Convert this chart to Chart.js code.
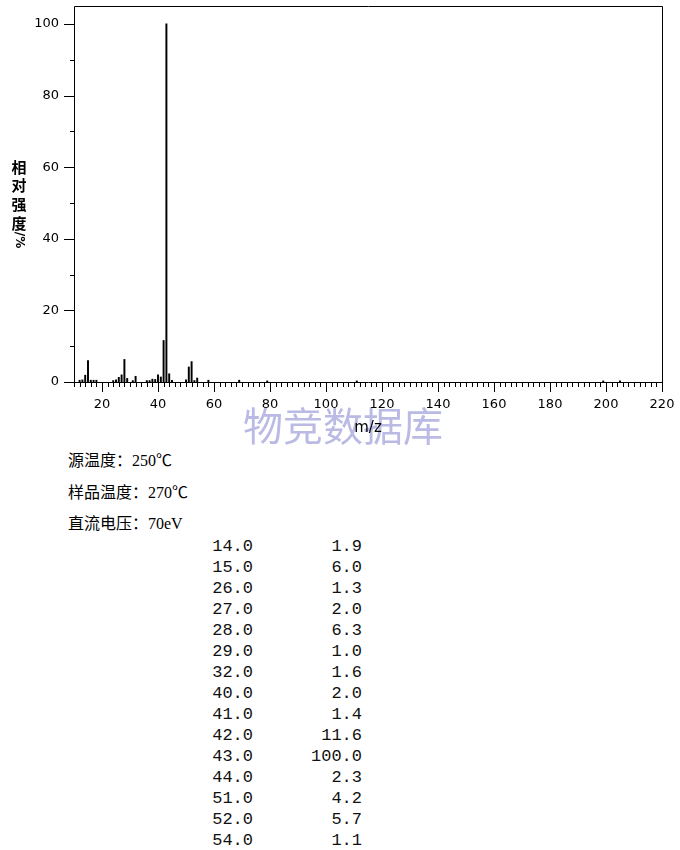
<!DOCTYPE html>
<html>
<head>
<meta charset="utf-8">
<script src="https://cdn.jsdelivr.net/npm/chart.js@4.4.1/dist/chart.umd.min.js"></script>
<style>
  body { margin: 0; background: #fff; width: 680px; height: 850px; position: relative; overflow: hidden; }
  #spectrum { position: absolute; left: 0; top: 0; }
  .info { position: absolute; left: 68px; font-family: "Liberation Serif", "Noto Sans CJK SC", serif; font-size: 16px; color: #000; }
  .row { position: absolute; font-family: "Liberation Mono", "DejaVu Sans Mono", monospace; font-size: 17px; color: #111; text-align: right; }
</style>
</head>
<body>
<canvas id="spectrum" width="680" height="450"></canvas>
<div id="notes"></div>
<script>
// peaks (m/z, relative intensity %)
const peakMz = [12, 13, 14, 15, 16, 17, 18, 24, 25, 26, 27, 28, 29, 31, 32, 36, 37, 38, 39, 40,
  41, 42, 43, 44, 45, 50, 51, 52, 53, 54, 58, 69, 79, 111, 199, 205];
const peakIntensity = [0.5, 0.6, 1.9, 6.0, 0.5, 0.5, 0.5, 0.4, 0.6, 1.3, 2.0, 6.3, 1.0, 0.4, 1.6, 0.4, 0.4, 0.8, 0.7, 2.0,
  1.4, 11.6, 100.0, 2.3, 0.5, 0.6, 4.2, 5.7, 0.4, 1.1, 0.5, 0.5, 0.3, 0.3, 0.3, 0.3];

const xLabels = [20, 40, 60, 80, 100, 120, 140, 160, 180, 200, 220];
const yLabels = [0, 20, 40, 60, 80, 100];
const xMinorStep = 2;
const yMinorStep = 10;

const conditions = ["源温度：250℃", "样品温度：270℃", "直流电压：70eV"];
const yTitleChars = ["相", "对", "强", "度"];

// little helper for the stepped tick lists
const stepList = (from, to, step) => {
  const out = [];
  for (let v = from; v <= to + 1e-9; v += step) out.push(v);
  return out;
};

const axisPlugin = {
  id: "axisDecor",
  beforeDraw(chart) {
    const ctx = chart.ctx;
    ctx.save();
    ctx.fillStyle = "rgb(186, 186, 228)";
    ctx.font = "40px 'Noto Sans CJK SC'";
    ctx.textAlign = "center";
    ctx.textBaseline = "middle";
    ctx.fillText("物竞数据库", 343, 426);
    ctx.restore();
  },
  afterDraw(chart) {
    const ctx = chart.ctx;
    const area = chart.chartArea;
    const xs = chart.scales.x;
    const ys = chart.scales.y;
    ctx.save();
    ctx.strokeStyle = "#000";
    ctx.lineWidth = 1;
    ctx.beginPath();
    // frame
    ctx.rect(Math.round(area.left) + 0.5, Math.round(area.top) + 0.5,
      Math.round(area.right - area.left), Math.round(area.bottom - area.top));
    // x ticks below the axis
    stepList(10, 220, xMinorStep).forEach(v => {
      const px = Math.round(xs.getPixelForValue(v)) + 0.5;
      const len = xLabels.includes(v) ? 10 : 5;
      ctx.moveTo(px, Math.round(area.bottom));
      ctx.lineTo(px, Math.round(area.bottom) + len);
    });
    // y ticks left of the axis
    stepList(0, 100, yMinorStep).forEach(v => {
      const py = Math.round(ys.getPixelForValue(v)) + 0.5;
      const len = yLabels.includes(v) ? 10 : 4;
      ctx.moveTo(Math.round(area.left), py);
      ctx.lineTo(Math.round(area.left) - len, py);
    });
    ctx.stroke();

    // vertical axis title, CJK upright, "/%" turned
    ctx.fillStyle = "#000";
    ctx.font = "bold 15px 'Noto Sans CJK SC'";
    ctx.textAlign = "center";
    ctx.textBaseline = "middle";
    yTitleChars.forEach((c, i) => ctx.fillText(c, 19, 167 + i * 18.7));
    ctx.translate(19, 240);
    ctx.rotate(Math.PI / 2);
    ctx.font = "bold 12px 'DejaVu Sans'";
    ctx.fillText("/%", 0, 0);
    ctx.restore();
  }
};

new Chart(document.getElementById("spectrum").getContext("2d"), {
  type: "bar",
  data: {
    datasets: [{
      data: peakMz.map((mz, i) => ({ x: mz, y: peakIntensity[i] })),
      backgroundColor: "#000",
      borderWidth: 0,
      barThickness: 1.3
    }]
  },
  options: {
    responsive: false,
    animation: false,
    events: [],
    layout: { padding: { top: 6, right: 18, left: 0, bottom: 0 } },
    plugins: { legend: { display: false }, tooltip: { enabled: false } },
    scales: {
      x: {
        type: "linear",
        min: 10,
        max: 220,
        offset: false,
        grid: { display: false, drawTicks: false },
        border: { display: false },
        afterBuildTicks: (scale) => { scale.ticks = xLabels.map(v => ({ value: v })); },
        afterFit: (scale) => {
          scale.height = 68;
          scale.paddingLeft = 0;
          scale.paddingRight = 0;
        },
        ticks: {
          autoSkip: false,
          maxRotation: 0,
          padding: 15,
          color: "#000",
          font: { family: "DejaVu Sans", size: 13 }
        },
        title: {
          display: true,
          text: "m/z",
          color: "#000",
          font: { family: "DejaVu Sans", size: 15 },
          padding: { top: 0, bottom: 13 }
        }
      },
      y: {
        min: 0,
        max: 105,
        grid: { display: false, drawTicks: false },
        border: { display: false },
        afterBuildTicks: (scale) => { scale.ticks = yLabels.map(v => ({ value: v })); },
        afterFit: (scale) => {
          scale.width = 74;
          scale.paddingTop = 0;
          scale.paddingBottom = 0;
        },
        ticks: {
          padding: 15,
          color: "#000",
          font: { family: "DejaVu Sans", size: 13 }
        }
      }
    }
  },
  plugins: [axisPlugin]
});

// text block under the chart
const notes = document.getElementById("notes");
conditions.forEach((t, i) => {
  const d = document.createElement("div");
  d.className = "info";
  d.textContent = t;
  d.style.top = (451 + i * 31.5) + "px";
  d.style.lineHeight = "20px";
  notes.appendChild(d);
});
const listed = peakMz.map((mz, i) => [mz, peakIntensity[i]]).filter(p => p[1] >= 1.0);
listed.forEach((p, i) => {
  const top = 537 + i * 21;
  const a = document.createElement("div");
  a.className = "row";
  a.style.top = top + "px";
  a.style.right = (680 - 253) + "px";
  a.style.lineHeight = "20px";
  a.textContent = p[0].toFixed(1);
  const b = document.createElement("div");
  b.className = "row";
  b.style.top = top + "px";
  b.style.right = (680 - 362) + "px";
  b.style.lineHeight = "20px";
  b.textContent = p[1].toFixed(1);
  notes.appendChild(a);
  notes.appendChild(b);
});
</script>
</body>
</html>
